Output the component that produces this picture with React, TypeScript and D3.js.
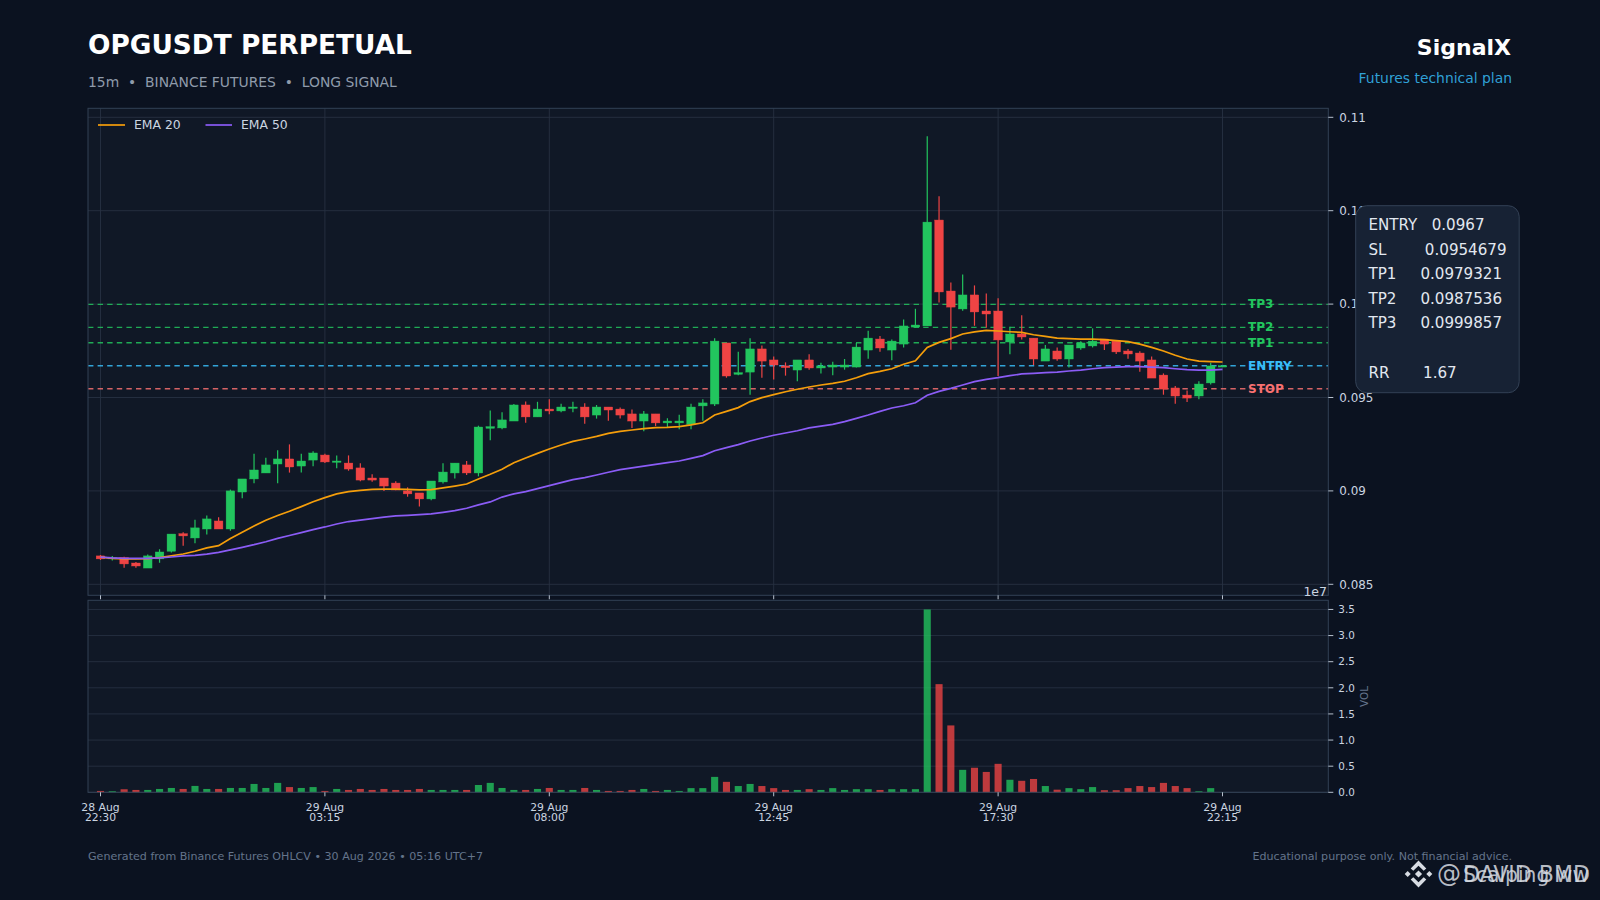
import React from "react";
import * as d3 from "d3";

const W = 1600, H = 900;

// prices in units of 1e-5
const opens = [8652,8636,8643,8614,8587,8636,8677,8771,8748,8796,8839,8796,8994,9064,9096,9144,9171,9133,9165,9192,9157,9149,9123,9069,9069,9042,9000,8989,8957,9048,9096,9139,9096,9335,9337,9374,9460,9396,9438,9428,9444,9449,9406,9449,9438,9412,9374,9412,9364,9364,9356,9455,9465,9792,9624,9636,9760,9701,9669,9647,9701,9658,9663,9663,9663,9754,9813,9754,9786,9877,9883,10450,10070,9974,10049,9963,9963,9797,9840,9818,9695,9749,9706,9765,9776,9813,9802,9749,9738,9701,9620,9551,9513,9508,9578,9667];
const highs = [8657,8652,8648,8620,8659,8687,8769,8778,8846,8868,8859,9007,9064,9199,9178,9217,9249,9199,9212,9199,9189,9190,9148,9089,9069,9051,9019,8989,9053,9148,9149,9160,9349,9431,9421,9465,9479,9477,9490,9467,9477,9469,9460,9449,9447,9436,9428,9412,9389,9408,9467,9490,9817,9792,9745,9817,9779,9719,9688,9701,9731,9686,9692,9706,9792,9858,9829,9810,9917,9975,10898,10577,10116,10159,10100,10057,10031,9879,9940,9818,9781,9768,9781,9801,9870,9813,9802,9760,9747,9720,9629,9562,9538,9587,9686,9672];
const lows = [8630,8627,8589,8589,8587,8616,8670,8707,8720,8766,8796,8787,8960,9041,9096,9041,9098,9099,9132,9149,9121,9108,9051,9049,9000,9003,8969,8916,8950,9039,9066,9085,9078,9271,9330,9374,9365,9396,9410,9421,9421,9360,9387,9376,9387,9337,9319,9347,9339,9330,9330,9376,9455,9606,9619,9515,9606,9597,9617,9587,9649,9628,9619,9649,9660,9708,9745,9699,9768,9874,9883,10008,9756,9965,9884,9874,9615,9731,9811,9674,9695,9697,9661,9756,9768,9754,9733,9708,9638,9604,9515,9467,9476,9490,9570,9665];
const closes = [8636,8643,8609,8598,8652,8673,8769,8759,8802,8850,8796,9000,9064,9112,9139,9171,9128,9160,9203,9155,9160,9117,9058,9058,9026,9005,8984,8957,9053,9101,9149,9096,9342,9344,9380,9460,9396,9438,9428,9449,9449,9396,9449,9433,9406,9374,9412,9364,9374,9374,9449,9471,9802,9615,9633,9760,9695,9674,9660,9701,9658,9669,9674,9674,9770,9818,9765,9802,9883,9888,10439,10065,9984,10049,9958,9947,9808,9840,9824,9706,9760,9706,9781,9792,9802,9786,9744,9733,9695,9604,9545,9508,9497,9572,9669,9670];
const ema20 = [8645,8639,8636,8636,8637,8643,8653,8662,8677,8695,8707,8745,8778,8812,8843,8868,8891,8916,8942,8964,8984,8996,9003,9008,9010,9010,9008,9005,9007,9016,9026,9037,9064,9089,9116,9151,9176,9201,9224,9246,9265,9278,9292,9308,9319,9326,9333,9339,9340,9344,9353,9365,9406,9426,9446,9478,9499,9515,9531,9544,9556,9567,9576,9587,9606,9628,9640,9654,9678,9697,9768,9795,9815,9840,9851,9859,9856,9852,9849,9836,9827,9818,9815,9813,9813,9810,9804,9799,9786,9768,9749,9726,9706,9695,9692,9690];
const ema50 = [8645,8641,8639,8639,8639,8641,8646,8652,8655,8662,8671,8684,8698,8712,8728,8746,8761,8777,8793,8807,8823,8836,8844,8852,8860,8866,8869,8873,8877,8885,8894,8907,8925,8941,8967,8984,8996,9012,9028,9044,9060,9071,9085,9100,9114,9123,9133,9142,9151,9160,9174,9189,9215,9232,9248,9267,9283,9298,9310,9322,9337,9347,9356,9371,9388,9406,9426,9444,9456,9472,9512,9533,9549,9567,9585,9597,9606,9617,9626,9629,9633,9636,9642,9647,9654,9660,9663,9665,9665,9663,9660,9654,9649,9647,9647,9651];
// volume in units of 1e7
const volumes = [0.026,0.02,0.058,0.045,0.045,0.064,0.083,0.064,0.122,0.064,0.064,0.083,0.083,0.16,0.083,0.18,0.10,0.083,0.10,0.026,0.064,0.045,0.064,0.045,0.064,0.045,0.045,0.064,0.045,0.045,0.045,0.045,0.14,0.18,0.083,0.045,0.045,0.064,0.083,0.045,0.045,0.083,0.045,0.026,0.026,0.045,0.064,0.026,0.045,0.026,0.08,0.08,0.295,0.2,0.12,0.16,0.12,0.08,0.045,0.045,0.06,0.045,0.08,0.045,0.06,0.06,0.045,0.06,0.06,0.06,3.5,2.07,1.28,0.43,0.47,0.39,0.545,0.24,0.22,0.255,0.12,0.05,0.08,0.06,0.10,0.04,0.04,0.08,0.12,0.10,0.18,0.12,0.08,0.02,0.08,0.005];

const priceTicks = [0.085, 0.09, 0.095, 0.1, 0.105, 0.11];
const priceTickLabels = ["0.085", "0.09", "0.095", "0.1", "0.105", "0.11"];
const volTicks = [0, 0.5, 1, 1.5, 2, 2.5, 3, 3.5];
const xTickIndex = [0, 19, 38, 57, 76, 95];
const xTickDates = ["28 Aug", "29 Aug", "29 Aug", "29 Aug", "29 Aug", "29 Aug"];
const xTickTimes = ["22:30", "03:15", "08:00", "12:45", "17:30", "22:15"];

const levelNames = ["TP3", "TP2", "TP1", "ENTRY", "STOP"];
const levelValues = [0.0999857, 0.0987536, 0.0979321, 0.0967, 0.0954679];
const levelColors = ["#22c55e", "#22c55e", "#22c55e", "#38bdf8", "#f87171"];

const panelLines = ["ENTRY   0.0967", "SL        0.0954679", "TP1     0.0979321", "TP2     0.0987536", "TP3     0.0999857", "", "RR       1.67"];

const FONT = "'DejaVu Sans', sans-serif";
const BG = "#0b1220", AX = "#101826", GRID = "#273142", SPINE = "#334155";
const UP = "#22c55e", DOWN = "#ef4444";

const L = 88, R = 1328.3, T1 = 108.3, B1 = 595.3, T2 = 600.3, B2 = 792.3;

export default function App() {
  const x = d3.scaleLinear().domain([0, 95]).range([100.5, 1222.5]);
  const y = d3.scaleLinear().domain([0.085, 0.11]).range([584.3, 117.3]);
  const v = d3.scaleLinear().domain([0, 3.675]).range([B2, T2]);
  const p = (n: number) => y(n / 1e5);
  const line = d3.line<number>().x((_, i) => x(i)).y((d) => p(d));
  const bw = 8.6, vw = 7.1;
  return (
    <svg width={W} height={H} viewBox={`0 0 ${W} ${H}`} style={{ position: "absolute", left: 0, top: 0, background: BG }} fontFamily={FONT}>
      <defs>
        <clipPath id="c1"><rect x={L} y={T1} width={R - L} height={B1 - T1} /></clipPath>
      </defs>
      <rect width={W} height={H} fill={BG} />
      <text x={88} y={54} fontSize={26.4} fontWeight={700} fill="#ffffff">OPGUSDT PERPETUAL</text>
      <text x={88} y={86.5} fontSize={13.9} fill="#8f9bab" style={{ whiteSpace: "pre" }}>{"15m  •  BINANCE FUTURES  •  LONG SIGNAL"}</text>
      <text x={1511} y={55} fontSize={22} fontWeight={700} fill="#ffffff" textAnchor="end">SignalX</text>
      <text x={1512} y={83} fontSize={13.9} fill="#38bdf8" fillOpacity={0.85} textAnchor="end">Futures technical plan</text>

      {/* price panel */}
      <rect x={L} y={T1} width={R - L} height={B1 - T1} fill={AX} />
      <g stroke={GRID} strokeWidth={0.9}>
        {priceTicks.map((t) => <line key={t} x1={L} x2={R} y1={y(t)} y2={y(t)} />)}
        {xTickIndex.map((t) => <line key={t} x1={x(t)} x2={x(t)} y1={T1} y2={B1} />)}
      </g>
      {levelNames.map((n, i) => (
        <text key={n} x={1248} y={y(levelValues[i]) - 0.5} dy="0.36em" fontSize={12} fontWeight={700} fill={levelColors[i]}>{n}</text>
      ))}
      <g clipPath="url(#c1)">
        {levelValues.map((t, i) => (
          <line key={t} x1={L} x2={R} y1={y(t)} y2={y(t)} stroke={levelColors[i]} strokeOpacity={0.85} strokeWidth={1.3} strokeDasharray="5.4 4.2" />
        ))}
        {opens.map((o, i) => {
          const c = closes[i], col = c >= o ? UP : DOWN;
          const top = p(Math.max(o, c)), bot = p(Math.min(o, c));
          return (
            <g key={i}>
              <line x1={x(i)} x2={x(i)} y1={p(highs[i])} y2={p(lows[i])} stroke={col} strokeWidth={1.2} />
              <rect x={x(i) - bw / 2} y={top} width={bw} height={Math.max(bot - top, 1.3)} fill={col} stroke={col} strokeWidth={0.4} />
            </g>
          );
        })}
        <path d={line(ema20) ?? ""} fill="none" stroke="#f59e0b" strokeWidth={1.7} />
        <path d={line(ema50) ?? ""} fill="none" stroke="#8b5cf6" strokeWidth={1.7} />
      </g>
      <rect x={L} y={T1} width={R - L} height={B1 - T1} fill="none" stroke={SPINE} strokeWidth={1} />
      {xTickIndex.map((t) => <line key={t} x1={x(t)} x2={x(t)} y1={B1} y2={B1 + 4} stroke="#cbd5e1" strokeWidth={0.9} />)}
      {priceTicks.map((t, i) => (
        <g key={t}>
          <line x1={R} x2={R + 5} y1={y(t)} y2={y(t)} stroke="#cbd5e1" strokeWidth={0.9} />
          <text x={R + 11} y={y(t)} dy="0.36em" fontSize={11.9} fill="#cbd5e1">{priceTickLabels[i]}</text>
        </g>
      ))}
      <text x={1327} y={596} fontSize={12.5} fill="#cbd5e1" textAnchor="end">1e7</text>

      {/* legend */}
      <line x1={98} x2={125} y1={125} y2={125} stroke="#f59e0b" strokeWidth={1.7} />
      <text x={134} y={129.3} fontSize={12.4} fill="#cbd5e1">EMA 20</text>
      <line x1={205.5} x2={232} y1={125} y2={125} stroke="#8b5cf6" strokeWidth={1.7} />
      <text x={241} y={129.3} fontSize={12.4} fill="#cbd5e1">EMA 50</text>

      {/* volume panel */}
      <rect x={L} y={T2} width={R - L} height={B2 - T2} fill={AX} />
      <g stroke={GRID} strokeWidth={0.9}>
        {volTicks.map((t) => <line key={t} x1={L} x2={R} y1={v(t)} y2={v(t)} />)}
      </g>
      {volumes.map((d, i) => (
        <rect key={i} x={x(i) - vw / 2} y={v(d)} width={vw} height={B2 - v(d)} fill={closes[i] >= opens[i] ? UP : DOWN} fillOpacity={0.78} />
      ))}
      <rect x={L} y={T2} width={R - L} height={B2 - T2} fill="none" stroke={SPINE} strokeWidth={1} />
      {volTicks.map((t) => (
        <g key={t}>
          <line x1={R} x2={R + 5} y1={v(t)} y2={v(t)} stroke="#cbd5e1" strokeWidth={0.9} />
          <text x={R + 10} y={v(t)} dy="0.36em" fontSize={10.4} fill="#cbd5e1">{t.toFixed(1)}</text>
        </g>
      ))}
      <text transform="translate(1368,696.5) rotate(-90)" fontSize={10.4} fill="#64748b" textAnchor="middle">VOL</text>
      {xTickIndex.map((t, i) => (
        <g key={t}>
          <line x1={x(t)} x2={x(t)} y1={B2} y2={B2 + 4} stroke="#cbd5e1" strokeWidth={0.9} />
          <text x={x(t)} y={811} fontSize={10.8} fill="#cbd5e1" textAnchor="middle">{xTickDates[i]}</text>
          <text x={x(t)} y={821} fontSize={10.8} fill="#cbd5e1" textAnchor="middle">{xTickTimes[i]}</text>
        </g>
      ))}

      {/* info panel */}
      <rect x={1355.7} y={205.7} width={163.5} height={187} rx={11} fill="#172234" stroke="#334155" strokeWidth={1} />
      {panelLines.map((s, i) => (
        <text key={i} x={1368.5} y={230 + i * 24.6} fontSize={15.1} fill="#e2e8f0" style={{ whiteSpace: "pre" }}>{s}</text>
      ))}

      {/* footer */}
      <text x={88} y={860} fontSize={11.1} fill="#64748b">Generated from Binance Futures OHLCV • 30 Aug 2026 • 05:16 UTC+7</text>
      <text x={1512} y={860} fontSize={11.1} fill="#64748b" textAnchor="end">Educational purpose only. Not financial advice.</text>

      {/* watermark */}
      <g fill="#d8dce3" transform="translate(1418.5,874)">
        <path d="M0,-3.6 L3.6,0 L0,3.6 L-3.6,0 Z" />
        <path d="M-10.8,-3 L-7.8,0 L-10.8,3 L-13.8,0 Z" />
        <path d="M10.8,-3 L13.8,0 L10.8,3 L7.8,0 Z" />
        <path d="M0,-13.4 L7.8,-5.6 L5.2,-3.2 L0,-8.2 L-5.2,-3.2 L-7.8,-5.6 Z" />
        <path d="M0,13.4 L7.8,5.6 L5.2,3.2 L0,8.2 L-5.2,3.2 L-7.8,5.6 Z" />
      </g>
      <g fill="#d8dce3" fillOpacity={0.85}>
        <text x={1437} y={882} fontSize={24}>@</text>
        <text x={1463} y={882} fontSize={21} textLength={126} lengthAdjust="spacingAndGlyphs">Scalping ww</text>
        <text x={1463} y={882} fontSize={22.5} textLength={127} lengthAdjust="spacingAndGlyphs">DAVID BMD</text>
      </g>
    </svg>
  );
}
